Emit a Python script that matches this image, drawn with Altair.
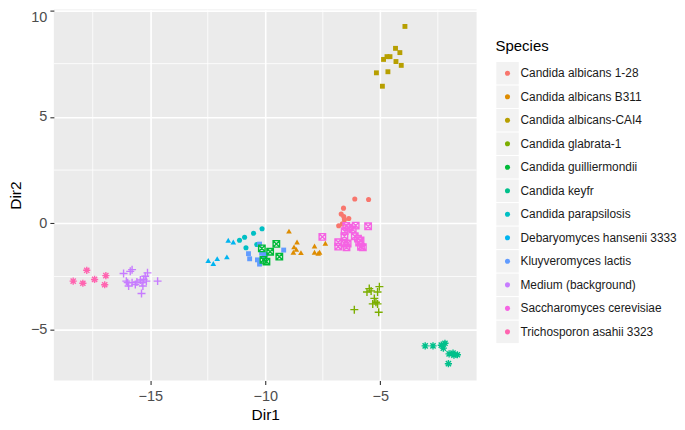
import altair as alt
import pandas as pd

species = [
    "Candida albicans 1-28", "Candida albicans B311", "Candida albicans-CAI4",
    "Candida glabrata-1", "Candida guilliermondii", "Candida keyfr",
    "Candida parapsilosis", "Debaryomyces hansenii 3333", "Kluyveromyces lactis",
    "Medium (background)", "Saccharomyces cerevisiae", "Trichosporon asahii 3323",
]
colors = ["#F8766D", "#DE8C00", "#B79F00", "#7CAE00", "#00BA38", "#00C08B",
          "#00BFC4", "#00B4F0", "#619CFF", "#C77CFF", "#F564E3", "#FF64B0"]

ca128 = [(-6.11, 1.14), (-5.51, 1.12), (-6.60, 0.71), (-6.70, 0.43), (-6.59, 0.32),
         (-6.56, 0.17), (-6.37, 0.22), (-6.81, -0.12), (-6.65, -0.03)]
cab311 = [(-8.97, -0.37), (-8.62, -0.88), (-8.75, -1.11), (-8.65, -1.23), (-8.78, -1.36),
          (-8.45, -1.38), (-7.86, -1.07), (-7.39, -0.94), (-7.86, -1.36), (-7.64, -1.36),
          (-7.70, -1.41)]
cacai4 = [(-3.93, 9.25), (-4.34, 8.22), (-4.15, 8.02), (-4.71, 7.83), (-4.58, 7.83),
          (-4.86, 7.70), (-4.32, 7.60), (-4.09, 7.42), (-5.17, 7.07), (-4.67, 7.12),
          (-4.91, 6.44)]
cglab = [(-6.13, -4.06), (-5.58, -3.23), (-5.48, -3.07), (-5.40, -3.18), (-5.04, -2.98),
         (-5.12, -3.23), (-5.26, -3.53), (-5.33, -3.79), (-5.12, -3.79), (-5.07, -4.18),
         (-5.19, -3.71)]
cguil = [(-10.15, -1.18), (-9.79, -1.34), (-9.52, -0.97), (-9.39, -1.57), (-9.95, -1.80),
         (-10.08, -1.72)]
ckeyfr = [(-3.05, -5.76), (-2.71, -5.76), (-2.35, -5.73), (-2.19, -5.64), (-2.26, -5.87),
          (-2.01, -6.14), (-1.84, -6.10), (-1.65, -6.18), (-1.80, -6.20), (-2.04, -6.60)]
cpara = [(-11.12, -0.80), (-10.90, -0.66), (-10.51, -0.47), (-10.14, -0.26), (-10.84, -1.15),
         (-10.37, -1.00)]
dhans = [(-12.48, -1.75), (-12.26, -1.89), (-12.09, -1.66), (-11.67, -1.58), (-11.61, -0.80),
         (-11.39, -0.88)]
klact = [(-10.73, -1.43), (-10.68, -1.67), (-10.25, -0.98), (-10.34, -1.72), (-10.25, -1.92),
         (-10.05, -1.57), (-10.02, -1.69), (-9.20, -1.26), (-10.16, -1.41), (-9.98, -1.46)]
medium = [(-16.16, -2.36), (-15.79, -2.18), (-15.87, -2.26), (-16.04, -2.72), (-15.98, -2.79),
          (-15.79, -2.79), (-15.58, -2.76), (-15.43, -2.67), (-15.36, -2.79), (-15.17, -2.72),
          (-15.12, -2.33), (-15.22, -2.49), (-15.32, -2.95), (-15.38, -3.30), (-14.68, -2.72),
          (-15.94, -2.95), (-15.65, -2.88), (-15.29, -2.64)]
scer = [(-7.52, -0.64), (-6.83, -0.89), (-6.83, -1.10), (-6.48, -0.12), (-6.55, -0.37),
        (-6.56, -0.61), (-6.37, -0.21), (-6.07, -0.11), (-6.20, -0.29), (-6.11, -0.61),
        (-5.97, -0.72), (-5.86, -0.81), (-5.92, -0.91), (-5.84, -1.11), (-5.76, -1.13),
        (-6.42, -0.95), (-6.56, -0.95), (-6.47, -1.13), (-5.53, -0.14)]
tasahii = [(-18.35, -2.72), (-17.93, -2.82), (-17.76, -2.21), (-17.42, -2.64), (-16.98, -2.89),
           (-16.93, -2.46)]

series = [ca128, cab311, cacai4, cglab, cguil, ckeyfr, cpara, dhans, klact, medium, scer, tasahii]

x_major = [-15, -10, -5]
y_major = [-5, 0, 5, 10]
x_minor = [-17.5, -12.5, -7.5, -2.5]
y_minor = [-2.5, 2.5, 7.5]

PLUS = "M-1,0L1,0M0,-1L0,1"
SQX = "M-1,-1L1,-1L1,1L-1,1Z M-1,-1L1,1 M-1,1L1,-1"
AST = "M-1,0L1,0M0,-1L0,1M-0.72,-0.72L0.72,0.72M-0.72,0.72L0.72,-0.72"
# ggplot default shape cycle: (shape, filled, size)
shape_styles = [("circle", True, 26), ("triangle-up", True, 32), ("square", True, 24),
                (PLUS, False, 64), (SQX, False, 42), (AST, False, 52)]

rows = []
for name, pts in zip(species, series):
    for x, y in pts:
        rows.append({"x": x, "y": y, "Species": name})
df = pd.DataFrame(rows)

W, H = 424, 372
xscale = alt.Scale(domain=[-19.19, -0.815], nice=False, zero=False)
yscale = alt.Scale(domain=[-7.39, 10.04], nice=False, zero=False)
xaxis = alt.Axis(values=x_major, title="Dir1", grid=True)
yaxis = alt.Axis(values=y_major, title="Dir2", grid=True, labelFlush=3)

vgrid = alt.Chart(pd.DataFrame({"x": x_minor})).mark_rule(
    color="white", strokeWidth=0.8
).encode(x=alt.X("x:Q", scale=xscale, axis=xaxis))
hgrid = alt.Chart(pd.DataFrame({"y": y_minor})).mark_rule(
    color="white", strokeWidth=0.8
).encode(y=alt.Y("y:Q", scale=yscale, axis=yaxis))

base = alt.Chart(df).encode(
    x=alt.X("x:Q", scale=xscale, axis=xaxis),
    y=alt.Y("y:Q", scale=yscale, axis=yaxis),
    color=alt.Color("Species:N", scale=alt.Scale(domain=species, range=colors), legend=None),
)
point_layers = []
for k, (shp, is_filled, sz) in enumerate(shape_styles):
    members = [s for i, s in enumerate(species) if i % 6 == k]
    if is_filled:
        m = base.mark_point(shape=shp, filled=True, opacity=1, size=sz)
    else:
        m = base.mark_point(shape=shp, filled=False, opacity=1, size=sz, strokeWidth=1.4)
    point_layers.append(m.transform_filter(
        alt.FieldOneOfPredicate(field="Species", oneOf=members)))

main = alt.layer(vgrid, hgrid, *point_layers).properties(
    width=W, height=H, view=alt.ViewBackground(fill="#EBEBEB", strokeWidth=0)
)

leg_df = pd.DataFrame({"Species": species})
ly = alt.Y("Species:N", scale=alt.Scale(domain=species, range=[52, 335]), axis=None)
keys = alt.Chart(leg_df).mark_square(color="#F2F2F2", size=506, opacity=1).encode(
    x=alt.value(18), y=ly)
dots = alt.Chart(leg_df).mark_circle(size=26, opacity=1).encode(
    x=alt.value(18), y=ly,
    color=alt.Color("Species:N", scale=alt.Scale(domain=species, range=colors), legend=None))
labels = alt.Chart(leg_df).mark_text(
    align="left", baseline="middle", fontSize=11.9, color="#1A1A1A"
).encode(x=alt.value(31), y=ly, text="Species:N")
ltitle = alt.Chart(pd.DataFrame({"t": ["Species"]})).mark_text(
    align="left", baseline="middle", fontSize=15, color="black"
).encode(x=alt.value(6), y=alt.value(37), text="t:N")
legend = alt.layer(keys, dots, labels, ltitle).properties(
    width=180, height=H, view=alt.ViewBackground(strokeWidth=0)
)

chart = alt.hconcat(main, legend, spacing=12).properties(
    padding=0
).configure(font="Liberation Sans").configure_view(strokeWidth=0).configure_axis(
    domain=False,
    gridColor="white", gridWidth=1.6,
    tickColor="#333333", tickSize=4, tickWidth=1.1,
    labelColor="#4D4D4D", labelFontSize=14.5,
    titleColor="black", titleFontSize=15.5, titleFontWeight="normal",
).configure_axisX(titlePadding=5, labelPadding=5).configure_axisY(titlePadding=7, labelPadding=3)

chart.save("out.html", embed_options={"renderer": "svg", "actions": False})
